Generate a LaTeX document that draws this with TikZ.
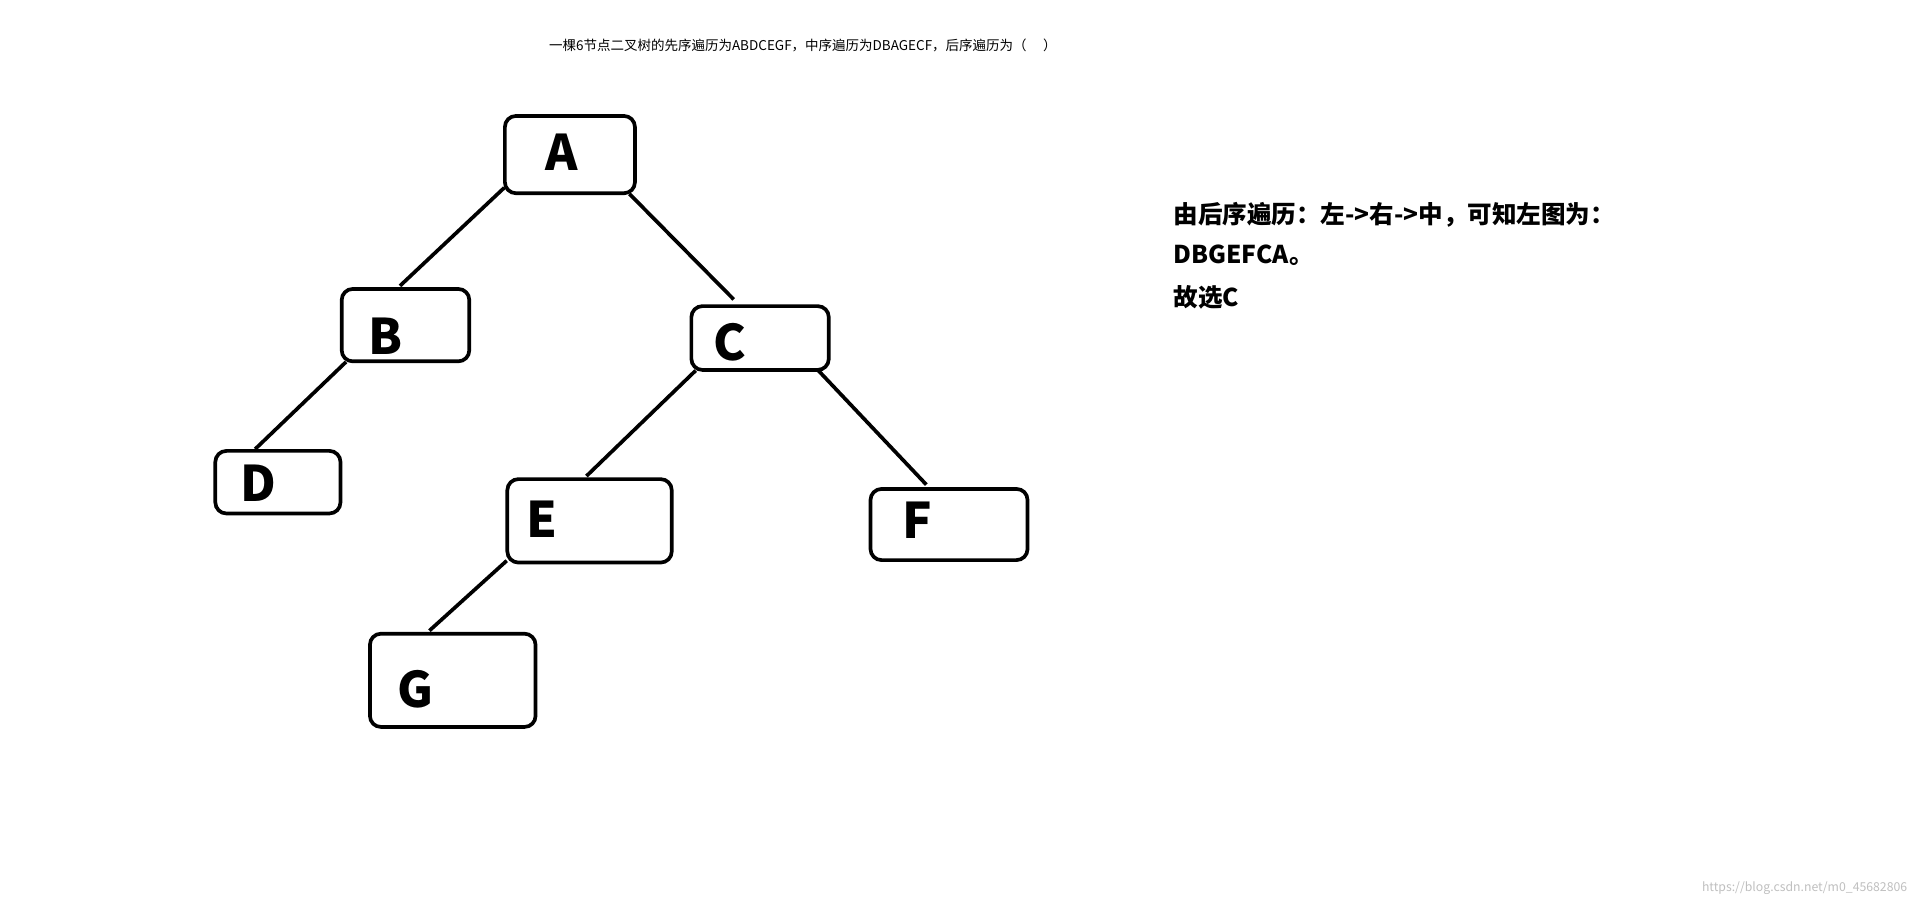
\documentclass[tikz,border=0pt]{standalone}
\usepackage{fontspec}
\setmainfont{Noto Sans CJK SC}
\usetikzlibrary{positioning}
\begin{document}
\begin{tikzpicture}[x=1pt,y=-1pt,
	box/.style={draw,line width=3pt,rounded corners=9pt,anchor=north west,inner sep=0pt},
	letter/.style={font=\fontsize{40}{40}\selectfont\bfseries,anchor=center},
	link/.style={line width=3pt}]
	\useasboundingbox (0,0) rectangle (1560,737);
	% the title line
	\node[anchor=west,font=\fontsize{11}{11}\selectfont] (title) at (444,37) {一棵6节点二叉树的先序遍历为ABDCEGF，中序遍历为DBAGECF，后序遍历为（\quad\ ）};
	% the boxes of the tree
	\foreach \name/\x/\y/\w/\h in {A/410/93/106/63, B/277/234/104/59, C/562/248/112/52,
		D/174/366/102/51, E/412/389/134/68, F/708/397/128/58, G/300/515/135/76}
	\node[box,minimum width=\w,minimum height=\h] (\name) at (\x,\y) {};
	% the letters
	\foreach \name/\x/\y in {A/458/124, B/314/274, C/595/279, D/211/394, E/442/423, F/748/424, G/339/562}
	\node[letter] (l\name) at (\x,\y) {\name};
	% free ends of the lines
	\coordinate (cTop) at (598,244);
	\coordinate (bTop) at (326,233);
	\coordinate (dTop) at (208,366);
	\coordinate (eTop) at (478,388);
	\coordinate (fTop) at (755,395);
	\coordinate (gTop) at (350,514);
	\draw[link] ([shift={(1,-6)}]A.south west) -- (bTop);
	\draw[link] ([shift={(-6,-1)}]A.south east) -- (cTop);
	\draw[link] ([shift={(5,-1)}]B.south west) -- (dTop);
	\draw[link] ([shift={(5,-1)}]C.south west) -- (eTop);
	\draw[link] ([shift={(-10,-1)}]C.south east) -- (fTop);
	\draw[link] ([shift={(1,-3)}]E.south west) -- (gTop);
	% the answer on the right
	\node[anchor=west,font=\fontsize{20}{20}\selectfont\bfseries] (ans1) at (953,175) {由后序遍历：左->右->中，可知左图为：};
	\node[anchor=west,font=\fontsize{20}{20}\selectfont\bfseries] (ans2) at (953,208) {DBGEFCA。};
	\node[anchor=west,font=\fontsize{20}{20}\selectfont\bfseries] (ans3) at (953,242) {故选C};
	% watermark
	\node[anchor=east,text=gray!50,font=\fontsize{10}{10}\selectfont] (mark) at (1558,724) {https://blog.csdn.net/m0\_45682806};
\end{tikzpicture}
\end{document}
